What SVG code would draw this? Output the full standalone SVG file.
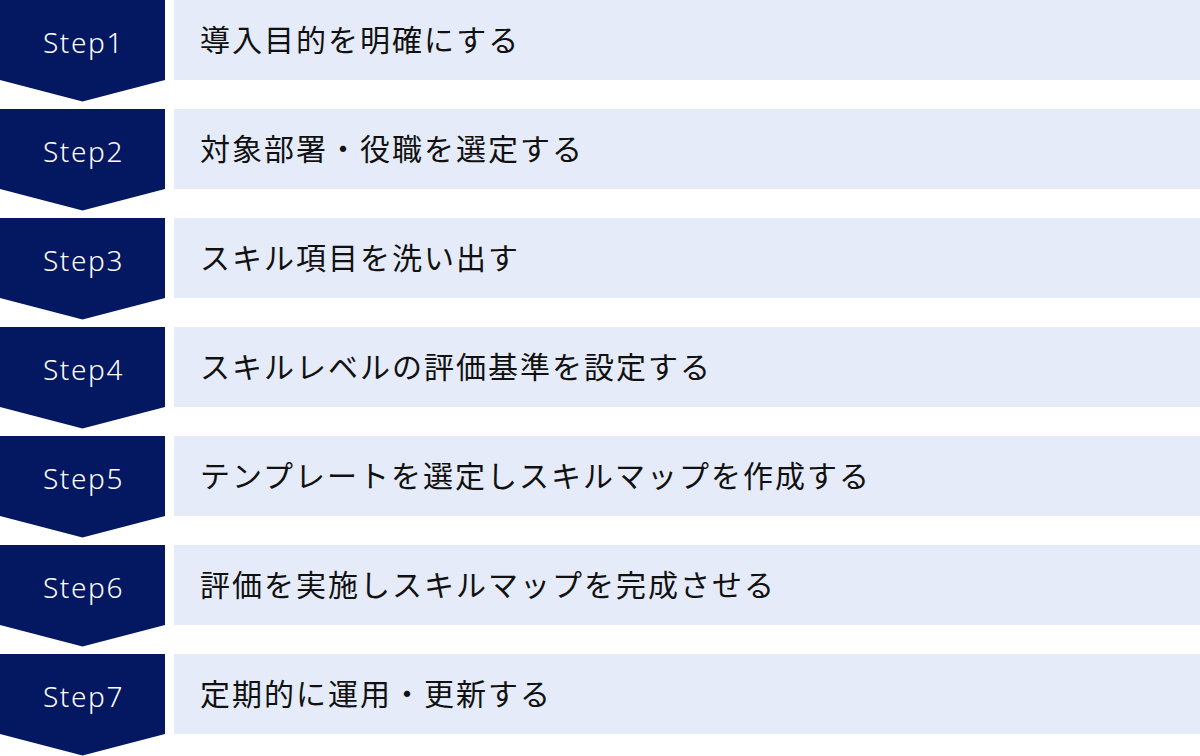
<svg xmlns="http://www.w3.org/2000/svg" width="1200" height="756" viewBox="0 0 1200 756">
<defs>
<style>
.chev{fill:#041761}
.box{fill:#E5EBF8}
.st{font-family:"Noto Sans","DejaVu Sans",sans-serif;font-size:28px;font-weight:360;fill:#ffffff;letter-spacing:1.6px;text-anchor:middle}
.lb{font-family:"Noto Sans CJK JP","Noto Sans",sans-serif;font-size:30px;fill:#111111;letter-spacing:2px}
</style>
<path id="chevShape" class="chev" d="M0 0H165V80L82.5 101.5L0 80Z"/>
</defs>
<rect width="1200" height="756" fill="#ffffff"/>
<g id="connectors"></g>
<g id="step1"><use href="#chevShape"/><rect class="box" x="174" y="0" width="1026" height="80"/><text class="st" x="83.5" y="52.5">Step1</text><text class="lb" x="200" y="51">導入目的を明確にする</text></g>
<g id="step2" transform="translate(0,109)"><use href="#chevShape"/><rect class="box" x="174" y="0" width="1026" height="80"/><text class="st" x="83.5" y="52.5">Step2</text><text class="lb" x="200" y="51">対象部署・役職を選定する</text></g>
<g id="step3" transform="translate(0,218)"><use href="#chevShape"/><rect class="box" x="174" y="0" width="1026" height="80"/><text class="st" x="83.5" y="52.5">Step3</text><text class="lb" x="200" y="51">スキル項目を洗い出す</text></g>
<g id="step4" transform="translate(0,327)"><use href="#chevShape"/><rect class="box" x="174" y="0" width="1026" height="80"/><text class="st" x="83.5" y="52.5">Step4</text><text class="lb" x="200" y="51">スキルレベルの評価基準を設定する</text></g>
<g id="step5" transform="translate(0,436)"><use href="#chevShape"/><rect class="box" x="174" y="0" width="1026" height="80"/><text class="st" x="83.5" y="52.5">Step5</text><text class="lb" x="200" y="51">テンプレートを選定しスキルマップを作成する</text></g>
<g id="step6" transform="translate(0,545)"><use href="#chevShape"/><rect class="box" x="174" y="0" width="1026" height="80"/><text class="st" x="83.5" y="52.5">Step6</text><text class="lb" x="200" y="51">評価を実施しスキルマップを完成させる</text></g>
<g id="step7" transform="translate(0,654)"><use href="#chevShape"/><rect class="box" x="174" y="0" width="1026" height="80"/><text class="st" x="83.5" y="52.5">Step7</text><text class="lb" x="200" y="51">定期的に運用・更新する</text></g>
</svg>
